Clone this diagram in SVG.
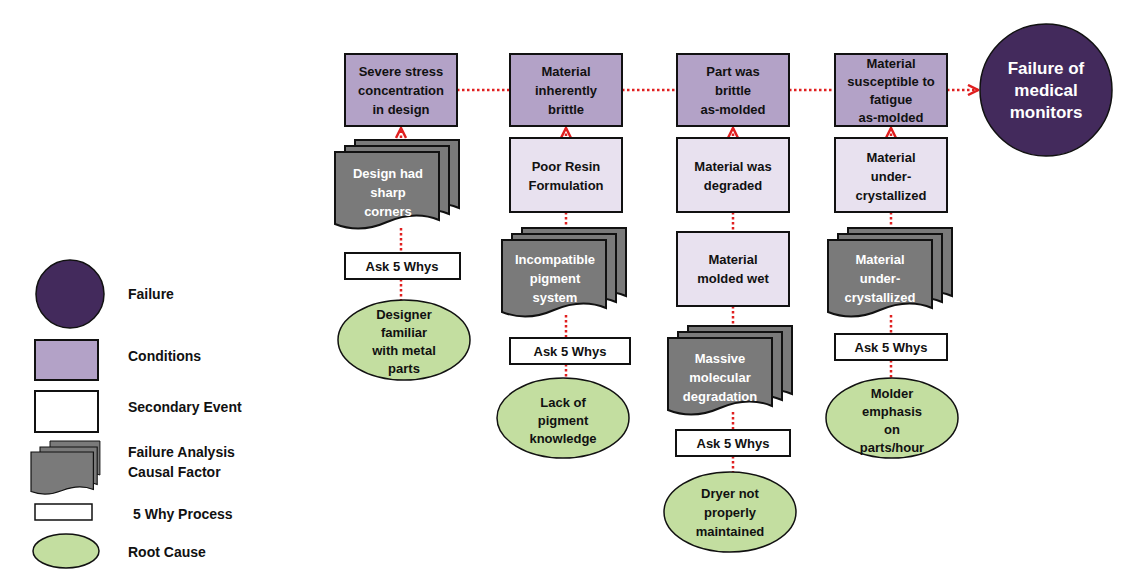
<svg xmlns="http://www.w3.org/2000/svg" xmlns:xlink="http://www.w3.org/1999/xlink" width="1122" height="586" viewBox="0 0 1122 586">
<style>
text{font-family:"Liberation Sans",Arial,sans-serif;font-weight:bold;font-size:13px;text-anchor:middle;fill:#111}
.lg{font-weight:normal;text-anchor:start;font-size:14px;font-weight:bold}
.cond{fill:#b3a2c7;stroke:#111;stroke-width:2}
.sec{fill:#e8e1ef;stroke:#111;stroke-width:2}
.why{fill:#fff;stroke:#111;stroke-width:2}
.root{fill:#c3dea0;stroke:#111;stroke-width:1.5}
.doc{fill:#7a7a7a;stroke:#111;stroke-width:2}
.wt{fill:#fff}
.c{stroke:#e02020;stroke-width:2.5;stroke-dasharray:2.5 2.5;fill:none}
</style>
<defs>
<path id="d" d="M0,0 H104 V68 Q80,58 52,70 Q25,82 0,72 Z"/>
<g id="md">
<use xlink:href="#d" class="doc" x="20" y="-12"/>
<use xlink:href="#d" class="doc" x="10" y="-6"/>
<use xlink:href="#d" class="doc"/>
</g>
<marker id="a" viewBox="0 0 10 10" refX="9" refY="5" markerWidth="5" markerHeight="5" orient="auto-start-reverse"><path d="M1,1 L9,5 L1,9" fill="none" stroke="#e02020" stroke-width="2"/></marker>
</defs>
<g id="connectors">
<path class="c" d="M457,90 H510 M622,90 H677 M789,90 H835"/>
<path class="c" d="M947,90 H978" marker-end="url(#a)"/>
<path class="c" d="M401,138 V128" marker-end="url(#a)"/>
<path class="c" d="M401,228 V253 M401,279 V300"/>
<path class="c" d="M566,136 V128" marker-end="url(#a)"/>
<path class="c" d="M566,212 V228 M566,315 V338 M566,364 V378"/>
<path class="c" d="M733,136 V128" marker-end="url(#a)"/>
<path class="c" d="M733,212 V232 M733,306 V324 M733,412 V430 M733,456 V472"/>
<path class="c" d="M891,136 V128" marker-end="url(#a)"/>
<path class="c" d="M891,212 V228 M891,315 V334 M891,360 V378"/>
</g>
<g id="failure"><circle cx="1046" cy="90" r="66" fill="#432a5c" stroke="#111" stroke-width="1.5"/>
<text x="1046" y="74" class="wt" style="font-size:17px">Failure of</text><text x="1046" y="96" class="wt" style="font-size:17px">medical</text><text x="1046" y="118" class="wt" style="font-size:17px">monitors</text></g>

<g id="c1"><rect class="cond" x="345" y="54" width="112" height="72"/><text x="401" y="76">Severe stress</text><text x="401" y="95">concentration</text><text x="401" y="114">in design</text></g>
<g id="f1"><use xlink:href="#md" x="335" y="152"/><text class="wt" x="388" y="178">Design had</text><text class="wt" x="388" y="197">sharp</text><text class="wt" x="388" y="216">corners</text></g>
<g id="w1"><rect class="why" x="345" y="253" width="115" height="26"/><text x="402" y="271">Ask 5 Whys</text></g>
<g id="r1"><ellipse class="root" cx="404" cy="340" rx="66" ry="40"/><text x="404" y="319">Designer</text><text x="404" y="337">familiar</text><text x="404" y="355">with metal</text><text x="404" y="373">parts</text></g>

<g id="c2"><rect class="cond" x="510" y="54" width="112" height="72"/><text x="566" y="76">Material</text><text x="566" y="95">inherently</text><text x="566" y="114">brittle</text></g>
<g id="s2"><rect class="sec" x="510" y="138" width="112" height="74"/><text x="566" y="171">Poor Resin</text><text x="566" y="190">Formulation</text></g>
<g id="f2"><use xlink:href="#md" x="502" y="240"/><text class="wt" x="555" y="264">Incompatible</text><text class="wt" x="555" y="283">pigment</text><text class="wt" x="555" y="302">system</text></g>
<g id="w2"><rect class="why" x="510" y="338" width="120" height="26"/><text x="570" y="356">Ask 5 Whys</text></g>
<g id="r2"><ellipse class="root" cx="563" cy="418" rx="66" ry="40"/><text x="563" y="407">Lack of</text><text x="563" y="425">pigment</text><text x="563" y="443">knowledge</text></g>

<g id="c3"><rect class="cond" x="677" y="54" width="112" height="72"/><text x="733" y="76">Part was</text><text x="733" y="95">brittle</text><text x="733" y="114">as-molded</text></g>
<g id="s3"><rect class="sec" x="677" y="138" width="112" height="74"/><text x="733" y="171">Material was</text><text x="733" y="190">degraded</text></g>
<g id="s3b"><rect class="sec" x="677" y="232" width="112" height="74"/><text x="733" y="264">Material</text><text x="733" y="283">molded wet</text></g>
<g id="f3"><use xlink:href="#md" x="668" y="338"/><text class="wt" x="720" y="363">Massive</text><text class="wt" x="720" y="382">molecular</text><text class="wt" x="720" y="401">degradation</text></g>
<g id="w3"><rect class="why" x="676" y="430" width="114" height="26"/><text x="733" y="448">Ask 5 Whys</text></g>
<g id="r3"><ellipse class="root" cx="730" cy="512" rx="66" ry="40"/><text x="730" y="498">Dryer not</text><text x="730" y="517">properly</text><text x="730" y="536">maintained</text></g>

<g id="c4"><rect class="cond" x="835" y="54" width="112" height="72"/><text x="891" y="68">Material</text><text x="891" y="86">susceptible to</text><text x="891" y="104">fatigue</text><text x="891" y="122">as-molded</text></g>
<g id="s4"><rect class="sec" x="835" y="138" width="112" height="74"/><text x="891" y="162">Material</text><text x="891" y="181">under-</text><text x="891" y="200">crystallized</text></g>
<g id="f4"><use xlink:href="#md" x="828" y="240"/><text class="wt" x="880" y="264">Material</text><text class="wt" x="880" y="283">under-</text><text class="wt" x="880" y="302">crystallized</text></g>
<g id="w4"><rect class="why" x="835" y="334" width="112" height="26"/><text x="891" y="352">Ask 5 Whys</text></g>
<g id="r4"><ellipse class="root" cx="892" cy="418" rx="66" ry="40"/><text x="892" y="398">Molder</text><text x="892" y="416">emphasis</text><text x="892" y="434">on</text><text x="892" y="452">parts/hour</text></g>

<g id="legend">
<circle cx="70" cy="294" r="34" fill="#432a5c" stroke="#111" stroke-width="1.5"/><text class="lg" x="128" y="299">Failure</text>
<rect class="cond" x="35" y="340" width="63" height="40"/><text class="lg" x="128" y="361">Conditions</text>
<rect class="why" x="35" y="391" width="63" height="41"/><text class="lg" x="128" y="412">Secondary Event</text>
<use xlink:href="#d" class="doc" transform="translate(50,441) scale(0.48,0.5)"/>
<use xlink:href="#d" class="doc" transform="translate(40,447) scale(0.55,0.55)"/>
<use xlink:href="#d" class="doc" transform="translate(31,452) scale(0.6,0.55)"/>
<text class="lg" x="128" y="457">Failure Analysis</text><text class="lg" x="128" y="477">Causal Factor</text>
<rect class="why" x="35" y="504" width="57" height="16" style="stroke-width:1.5"/><text class="lg" x="133" y="519">5 Why Process</text>
<ellipse class="root" cx="66" cy="551" rx="33" ry="17"/><text class="lg" x="128" y="557">Root Cause</text>
</g>
</svg>
